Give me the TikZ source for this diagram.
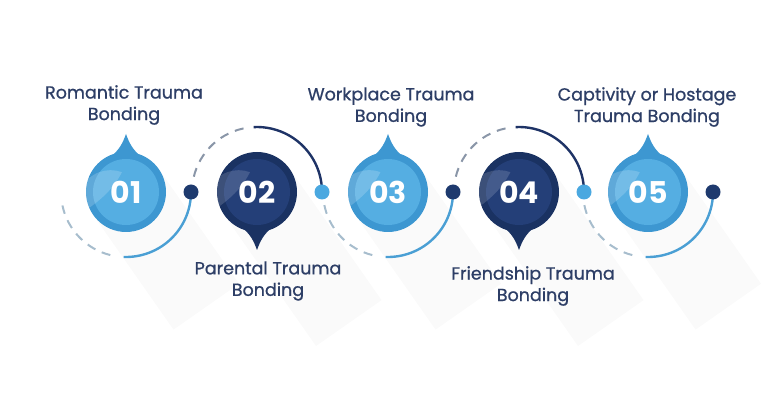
\documentclass[tikz,border=0pt]{standalone}
\usepackage{fontspec}
\setmainfont{Poppins}
\newfontfamily\labelfont{Poppins}[FakeBold=0.9]
\usetikzlibrary{positioning}

\definecolor{textblau}{HTML}{2D3E66}
\definecolor{hellaussen}{HTML}{3D97D1}
\definecolor{hellinnen}{HTML}{55AEE2}
\definecolor{dunkelaussen}{HTML}{1A3262}
\definecolor{dunkelinnen}{HTML}{243F78}
\definecolor{punktdunkel}{HTML}{1E3A6E}
\definecolor{punkthell}{HTML}{4AA8E0}
\definecolor{bogenhell}{HTML}{4A9FD4}
\definecolor{bogendunkel}{HTML}{1E3366}
\definecolor{strichgrau}{HTML}{8A96A8}
\definecolor{strichhell}{HTML}{A7BDCD}

\tikzset{
  kreis/.style={circle, minimum size=80pt, inner sep=0pt, text=white,
    font=\bfseries\fontsize{30}{30}\selectfont},
  kreis hell/.style={kreis, fill=hellaussen, path picture={
    \fill[hellinnen] (path picture bounding box.center) circle (33pt);
    \fill[white, opacity=.18, shift={(path picture bounding box.center)}]
      (200:33) arc[start angle=200, end angle=70, radius=33]
      .. controls (2,12) and (-14,0) .. cycle;}},
  kreis dunkel/.style={kreis, fill=dunkelaussen, path picture={
    \fill[dunkelinnen] (path picture bounding box.center) circle (33pt);
    \fill[white, opacity=.15, shift={(path picture bounding box.center)}]
      (200:33) arc[start angle=200, end angle=70, radius=33]
      .. controls (2,12) and (-14,0) .. cycle;}},
  spitze/.pic={\fill (-17,34) .. controls (-6,42) and (-3,50) .. (0,58)
    .. controls (3,50) and (6,42) .. (17,34) -- cycle;},
  punkt/.style={circle, minimum size=15pt, inner sep=0pt},
  bogen/.style={line width=2.4pt},
  strich/.style={line width=2pt, dash pattern=on 9pt off 7pt},
  schatten/.style={fill=black, opacity=.018},
  beschriftung/.style={align=center, text=textblau,
    font=\labelfont\fontsize{17.5}{21.5}\selectfont}
}

\begin{document}
\begin{tikzpicture}[x=1pt, y=1pt]
  \useasboundingbox (0,-211) rectangle (768,192);

  % Mittelpunkte
  \coordinate (m1) at (126,0);
  \coordinate (m2) at (257,0);
  \coordinate (m3) at (388,0);
  \coordinate (m4) at (519,0);
  \coordinate (m5) at (648,0);

  % Schatten
  \fill[schatten] (m1) ++(35:40) -- ++(-55:140) -- ++(-145:80) -- ++(125:140) -- cycle;
  \fill[schatten] (m2) ++(35:40) -- ++(-55:160) -- ++(-145:80) -- ++(125:160) -- cycle;
  \fill[schatten] (m3) ++(35:40) -- ++(-55:140) -- ++(-145:80) -- ++(125:140) -- cycle;
  \fill[schatten] (m4) ++(35:40) -- ++(-55:160) -- ++(-145:80) -- ++(125:160) -- cycle;
  \fill[schatten] (m5) ++(35:40) -- ++(-55:140) -- ++(-145:80) -- ++(125:140) -- cycle;

  % Boegen unten
  \draw[bogen, bogenhell] (m1) ++(0:65) arc[start angle=0, end angle=-92, radius=65];
  \draw[strich, strichhell] (m1) ++(-104:65) arc[start angle=-104, end angle=-168, radius=65];
  \draw[bogen, bogenhell] (m3) ++(0:65) arc[start angle=0, end angle=-92, radius=65];
  \draw[strich, strichhell] (m3) ++(-104:65) arc[start angle=-104, end angle=-170, radius=65];
  \draw[bogen, bogenhell] (m5) ++(0:65) arc[start angle=0, end angle=-92, radius=65];
  \draw[strich, strichhell] (m5) ++(-104:65) arc[start angle=-104, end angle=-170, radius=65];

  % Boegen oben
  \draw[bogen, bogendunkel] (m2) ++(0:65) arc[start angle=0, end angle=93, radius=65];
  \draw[strich, strichgrau] (m2) ++(102:65) arc[start angle=102, end angle=172, radius=65];
  \draw[bogen, bogendunkel] (m4) ++(0:65) arc[start angle=0, end angle=93, radius=65];
  \draw[strich, strichgrau] (m4) ++(102:65) arc[start angle=102, end angle=172, radius=65];

  % Punkte
  \node[punkt, fill=punktdunkel] (p1) at ([xshift=65pt]m1) {};
  \node[punkt, fill=punkthell] (p2) at ([xshift=65pt]m2) {};
  \node[punkt, fill=punktdunkel] (p3) at ([xshift=65pt]m3) {};
  \node[punkt, fill=punkthell] (p4) at ([xshift=65pt]m4) {};
  \node[punkt, fill=punktdunkel] (p5) at ([xshift=65pt]m5) {};

  % Kreise mit Spitzen
  \pic[fill=hellaussen] at (m1) {spitze};
  \pic[fill=dunkelaussen, rotate=180] at (m2) {spitze};
  \pic[fill=hellaussen] at (m3) {spitze};
  \pic[fill=dunkelaussen, rotate=180] at (m4) {spitze};
  \pic[fill=hellaussen] at (m5) {spitze};
  \node[kreis hell] (k1) at (m1) {01};
  \node[kreis dunkel] (k2) at (m2) {02};
  \node[kreis hell] (k3) at (m3) {03};
  \node[kreis dunkel] (k4) at (m4) {04};
  \node[kreis hell] (k5) at (m5) {05};

  % Beschriftungen
  \node[beschriftung] (t1) at (124,87) {Romantic Trauma\\Bonding};
  \node[beschriftung] (t2) at (268,-89) {Parental Trauma\\Bonding};
  \node[beschriftung] (t3) at (391,85) {Workplace Trauma\\Bonding};
  \node[beschriftung] (t4) at (533,-94) {Friendship Trauma\\Bonding};
  \node[beschriftung] (t5) at (647,85) {Captivity or Hostage\\Trauma Bonding};
\end{tikzpicture}
\end{document}
